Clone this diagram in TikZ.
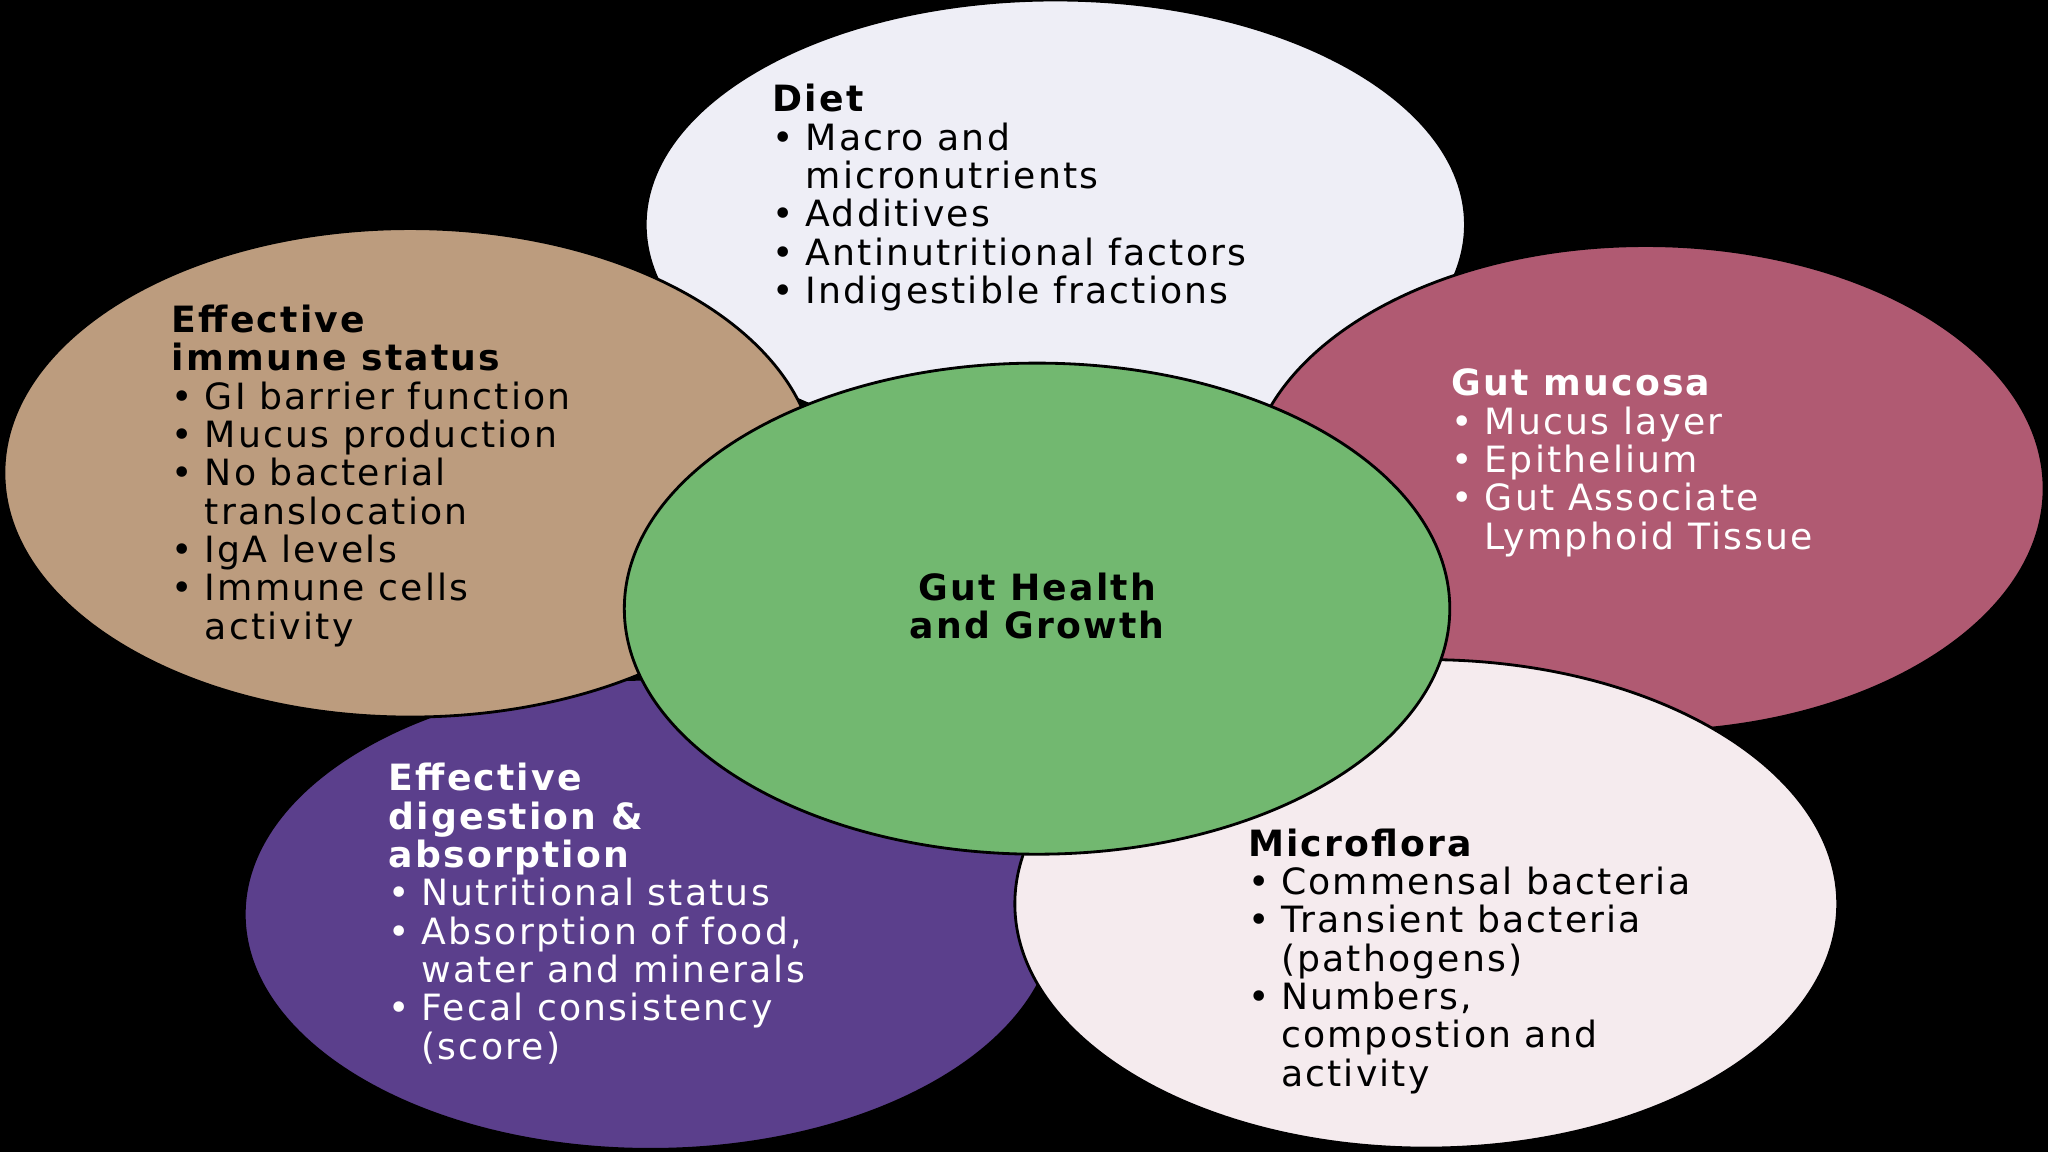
\documentclass[tikz,border=0pt]{standalone}
\usepackage{fontspec}
\setmainfont{DejaVu Sans}[LetterSpace=6]
\newcommand{\bul}{\makebox[0.33cm][l]{\textbullet}}
\newcommand{\ind}{\hspace*{0.33cm}}
\begin{document}
\begin{tikzpicture}[x=0.01306cm,y=-0.01306cm,
  blob/.style={draw=black,line width=0.8pt},
  txt/.style={anchor=north west,inner sep=0pt,align=left,font=\fontsize{10.3}{10.9}\selectfont}]
\fill[black] (0,0) rectangle (1568,882);
\useasboundingbox (0,0) rectangle (1568,882);
\filldraw[blob,fill={rgb,255:red,238;green,238;blue,246}] (808,172) ellipse [x radius=314,y radius=172];
\filldraw[blob,fill={rgb,255:red,91;green,63;blue,140}] (498,700) ellipse [x radius=311,y radius=180];
\filldraw[blob,fill={rgb,255:red,188;green,156;blue,126}] (314,362) ellipse [x radius=311,y radius=187];
\filldraw[blob,fill={rgb,255:red,176;green,90;blue,114}] (1260,374) ellipse [x radius=305,y radius=186];
\filldraw[blob,fill={rgb,255:red,245;green,235;blue,238}] (1092,692) ellipse [x radius=315,y radius=187];
\filldraw[blob,fill={rgb,255:red,114;green,184;blue,112}] (794,466) ellipse [x radius=316,y radius=188];

\node[txt] (diet) at (591,64) {\textbf{Diet}\\\bul Macro and\\\ind micronutrients\\\bul Additives\\\bul Antinutritional factors\\\bul Indigestible fractions};
\node[txt] (imm) at (131,233) {\textbf{Effective}\\\textbf{immune status}\\\bul GI barrier function\\\bul Mucus production\\\bul No bacterial\\\ind translocation\\\bul IgA levels\\\bul Immune cells\\\ind activity};
\node[txt,text=white] (muc) at (1111,282) {\textbf{Gut mucosa}\\\bul Mucus layer\\\bul Epithelium\\\bul Gut Associate\\\ind Lymphoid Tissue};
\node[txt,text=white] (dig) at (297,584) {\textbf{Effective}\\\textbf{digestion \&}\\\textbf{absorption}\\\bul Nutritional status\\\bul Absorption of food,\\\ind water and minerals\\\bul Fecal consistency\\\ind (score)};
\node[txt] (mic) at (955,634) {\textbf{Microflora}\\\bul Commensal bacteria\\\bul Transient bacteria\\\ind (pathogens)\\\bul Numbers,\\\ind compostion and\\\ind activity};
\node[inner sep=0pt,align=center,font=\fontsize{10.3}{10.9}\selectfont\bfseries] (c) at (794,464) {Gut Health\\and Growth};
\end{tikzpicture}
\end{document}
